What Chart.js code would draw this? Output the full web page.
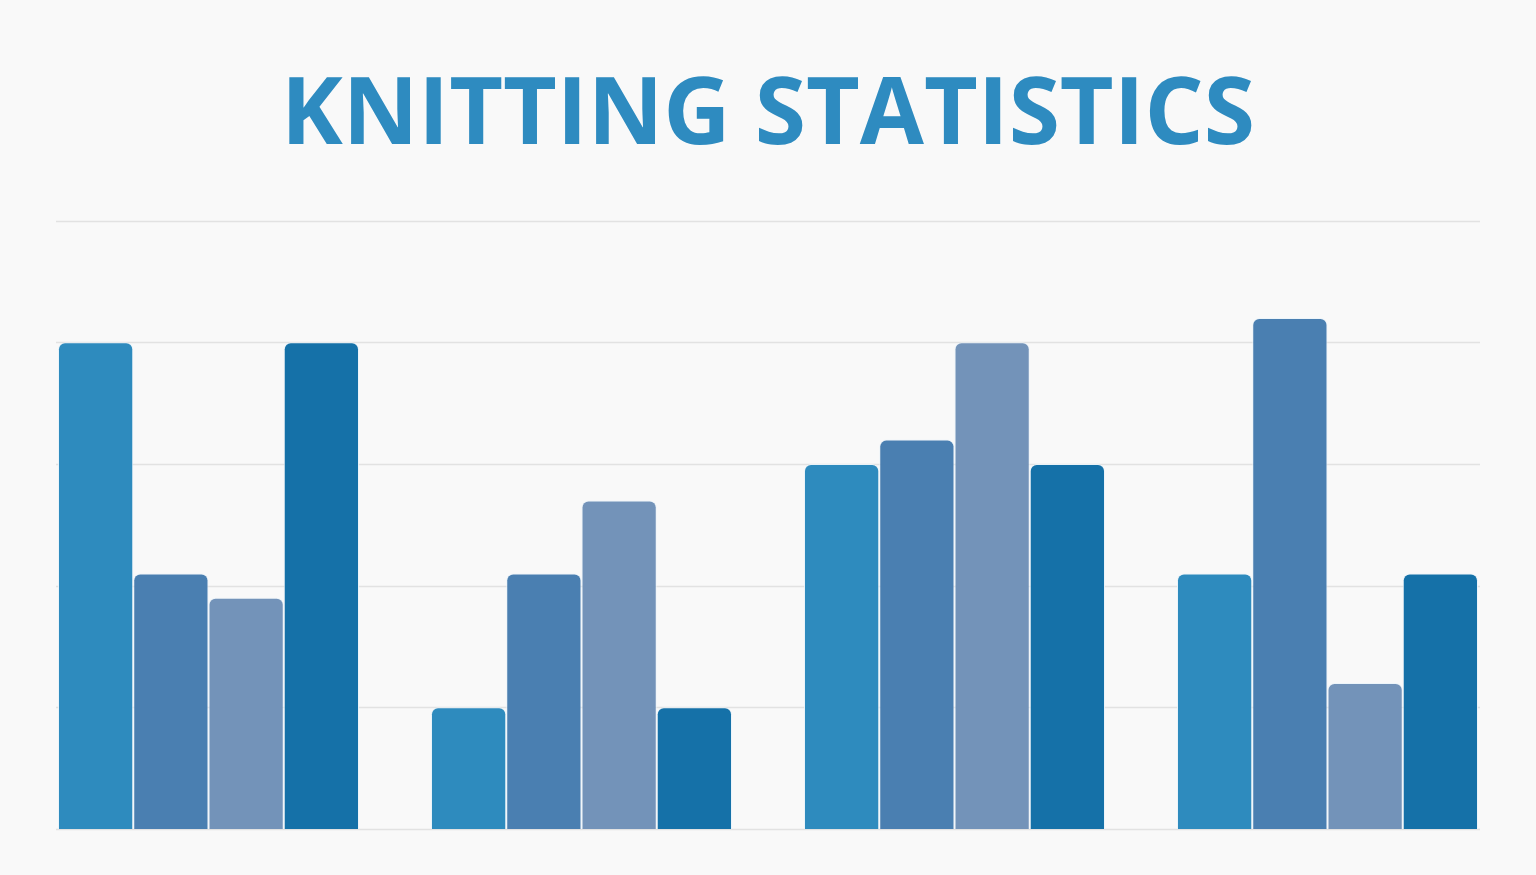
<!DOCTYPE html>
<html>
<head>
<meta charset="utf-8">
<title>Knitting Statistics</title>
<script src="https://cdn.jsdelivr.net/npm/chart.js@4"></script>
<style>
  html, body { margin: 0; padding: 0; background: #f9f9f9; }
  #wrap { width: 1536px; height: 875px; }
</style>
</head>
<body>
<div id="wrap"><canvas id="myChart"></canvas></div>
<script>
// data
var groups = ['1', '2', '3', '4'];
var seriesA = [4, 1, 3, 2.1];
var seriesB = [2.1, 2.1, 3.2, 4.2];
var seriesC = [1.9, 2.7, 4, 1.2];
var seriesD = [4, 1, 3, 2.1];
var yTicks = [0, 1, 2, 3, 4, 5];

var colors = ['#2e8bbe', '#4a7fb1', '#7393b9', '#1571a8'];

// horizontal grid lines only as wide as the bars
var gridPlugin = {
    id: 'gridLines',
    beforeDatasetsDraw: function (chart) {
        var ctx = chart.ctx;
        var y = chart.scales.y;
        var first = chart.getDatasetMeta(0).data[0];
        var last = chart.getDatasetMeta(3).data[groups.length - 1];
        var left = first.x - first.width / 2 - 2;
        var right = last.x + last.width / 2 + 2;
        ctx.save();
        ctx.strokeStyle = '#e2e2e2';
        ctx.lineWidth = 1.5;
        for (var i = 0; i < yTicks.length; i++) {
            var py = Math.round(y.getPixelForValue(yTicks[i])) + 0.5;
            ctx.beginPath();
            ctx.moveTo(left, py);
            ctx.lineTo(right, py);
            ctx.stroke();
        }
        ctx.restore();
    }
};

var all = [seriesA, seriesB, seriesC, seriesD];
var datasets = [];
for (var i in all) {
    datasets.push({
        label: 'Series ' + (Number(i) + 1),
        data: all[i],
        backgroundColor: colors[i],
        borderColor: 'rgba(235,244,250,0.9)',
        borderWidth: 1,
        borderRadius: 7,
        borderSkipped: 'bottom',
        categoryPercentage: 0.807,
        barPercentage: 1
    });
}

var ctx = document.getElementById('myChart');
var myChart = new Chart(ctx, {
    type: 'bar',
    data: { labels: groups, datasets: datasets },
    options: {
        responsive: true,
        maintainAspectRatio: false,
        animation: false,
        layout: { padding: { left: 22, right: 22, top: 0, bottom: 46 } },
        plugins: {
            legend: { display: false },
            tooltip: { enabled: false },
            title: {
                display: true,
                text: 'KNITTING STATISTICS',
                color: '#2e8bc0',
                font: { family: 'Open Sans', size: 93, weight: '700', lineHeight: 1.2 },
                padding: { top: 62, bottom: 47 }
            }
        },
        scales: {
            x: { display: false },
            y: { display: false, min: 0, max: 5, ticks: { stepSize: 1 } }
        }
    },
    plugins: [gridPlugin]
});
</script>
</body>
</html>
